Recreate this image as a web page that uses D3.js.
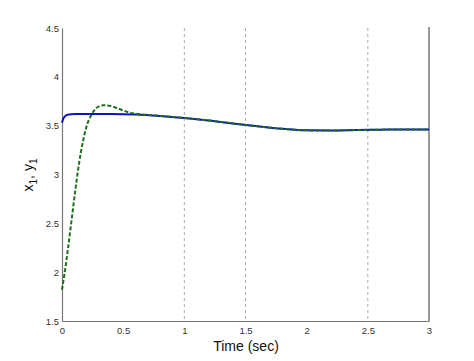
<!DOCTYPE html>
<html><head><meta charset="utf-8">
<script src="https://cdn.jsdelivr.net/npm/d3@7"></script>
<style>body{margin:0;background:#fff}svg{display:block}</style>
</head><body>
<svg id="c" width="474" height="361"></svg>
<script>
const xTicks = [0, 0.5, 1, 1.5, 2, 2.5, 3];
const yTicks = [1.5, 2, 2.5, 3, 3.5, 4, 4.5];
const gridX = [1, 1.5, 2.5];
const tX1 = [0, 0.01, 0.02, 0.04, 0.06, 0.1, 0.2, 0.4, 0.6, 0.8, 1.0, 1.2, 1.4, 1.6, 1.8, 2.0, 2.2, 2.4, 2.6, 2.8, 3.0];
const x1  = [3.53, 3.57, 3.59, 3.61, 3.615, 3.62, 3.62, 3.62, 3.615, 3.60, 3.579, 3.553, 3.522, 3.493, 3.468, 3.452, 3.45, 3.455, 3.459, 3.461, 3.461];
const tY1 = [0, 0.02, 0.05, 0.08, 0.11, 0.14, 0.17, 0.2, 0.24, 0.28, 0.34, 0.4, 0.47, 0.55, 0.65, 0.75, 0.85, 1.0, 1.2, 1.4, 1.6, 1.8, 2.0, 2.2, 2.4, 2.6, 2.8, 3.0];
const y1  = [1.82, 1.98, 2.25, 2.55, 2.85, 3.12, 3.33, 3.49, 3.61, 3.68, 3.71, 3.70, 3.67, 3.635, 3.615, 3.605, 3.595, 3.579, 3.553, 3.522, 3.493, 3.468, 3.452, 3.45, 3.455, 3.459, 3.461, 3.461];

const svg = d3.select("#c");
const L = 62, R = 429, T = 28, B = 321;
const x = d3.scaleLinear().domain([0, 3]).range([L, R]);
const y = d3.scaleLinear().domain([1.5, 4.5]).range([B, T]);

// grid
svg.append("g").selectAll("line").data(gridX).join("line")
  .attr("x1", d => x(d)).attr("x2", d => x(d)).attr("y1", T).attr("y2", B)
  .attr("stroke", "#aaa").attr("stroke-width", 1).attr("stroke-dasharray", "3,3");

// axes
const xa = svg.append("g").attr("transform", `translate(0,${B})`)
  .call(d3.axisBottom(x).tickValues(xTicks).tickSize(0).tickPadding(6).tickFormat(d3.format("")));
const ya = svg.append("g").attr("transform", `translate(${L},0)`)
  .call(d3.axisLeft(y).tickValues(yTicks).tickSize(0).tickPadding(3).tickFormat(d3.format("")));
[xa, ya].forEach(a => {
  a.select(".domain").attr("stroke", "#777").attr("stroke-width", 1.2);
  a.selectAll("text").attr("font-family", "Liberation Sans, Arial, sans-serif").attr("font-size", 9.5).attr("fill", "#333");
});
svg.append("line").attr("x1", R).attr("x2", R).attr("y1", T - 1).attr("y2", B)
  .attr("stroke", "#999").attr("stroke-width", 2);

// lines
const line = d3.line().x(d => x(d[0])).y(d => y(d[1])).curve(d3.curveMonotoneX);
svg.append("path").datum(tX1.map((t, i) => [t, x1[i]])).attr("d", line)
  .attr("fill", "none").attr("stroke", "#1010c8").attr("stroke-width", 2);
svg.append("path").datum(tY1.map((t, i) => [t, y1[i]])).attr("d", line)
  .attr("fill", "none").attr("stroke", "#1e6e1e").attr("stroke-width", 2).attr("stroke-dasharray", "4,2");

// labels
svg.append("text").attr("x", 246).attr("y", 351).attr("text-anchor", "middle")
  .attr("font-family", "Liberation Sans, Arial, sans-serif").attr("font-size", 14).attr("fill", "#111")
  .text("Time (sec)");
const yl = svg.append("text").attr("transform", "translate(33,175) rotate(-90)").attr("text-anchor", "middle")
  .attr("font-family", "Liberation Sans, Arial, sans-serif").attr("font-size", 14).attr("fill", "#111");
yl.append("tspan").text("x");
yl.append("tspan").attr("font-size", 10).attr("dy", 4).text("1");
yl.append("tspan").attr("dy", -4).text(", y");
yl.append("tspan").attr("font-size", 10).attr("dy", 4).text("1");
</script>
</body></html>
